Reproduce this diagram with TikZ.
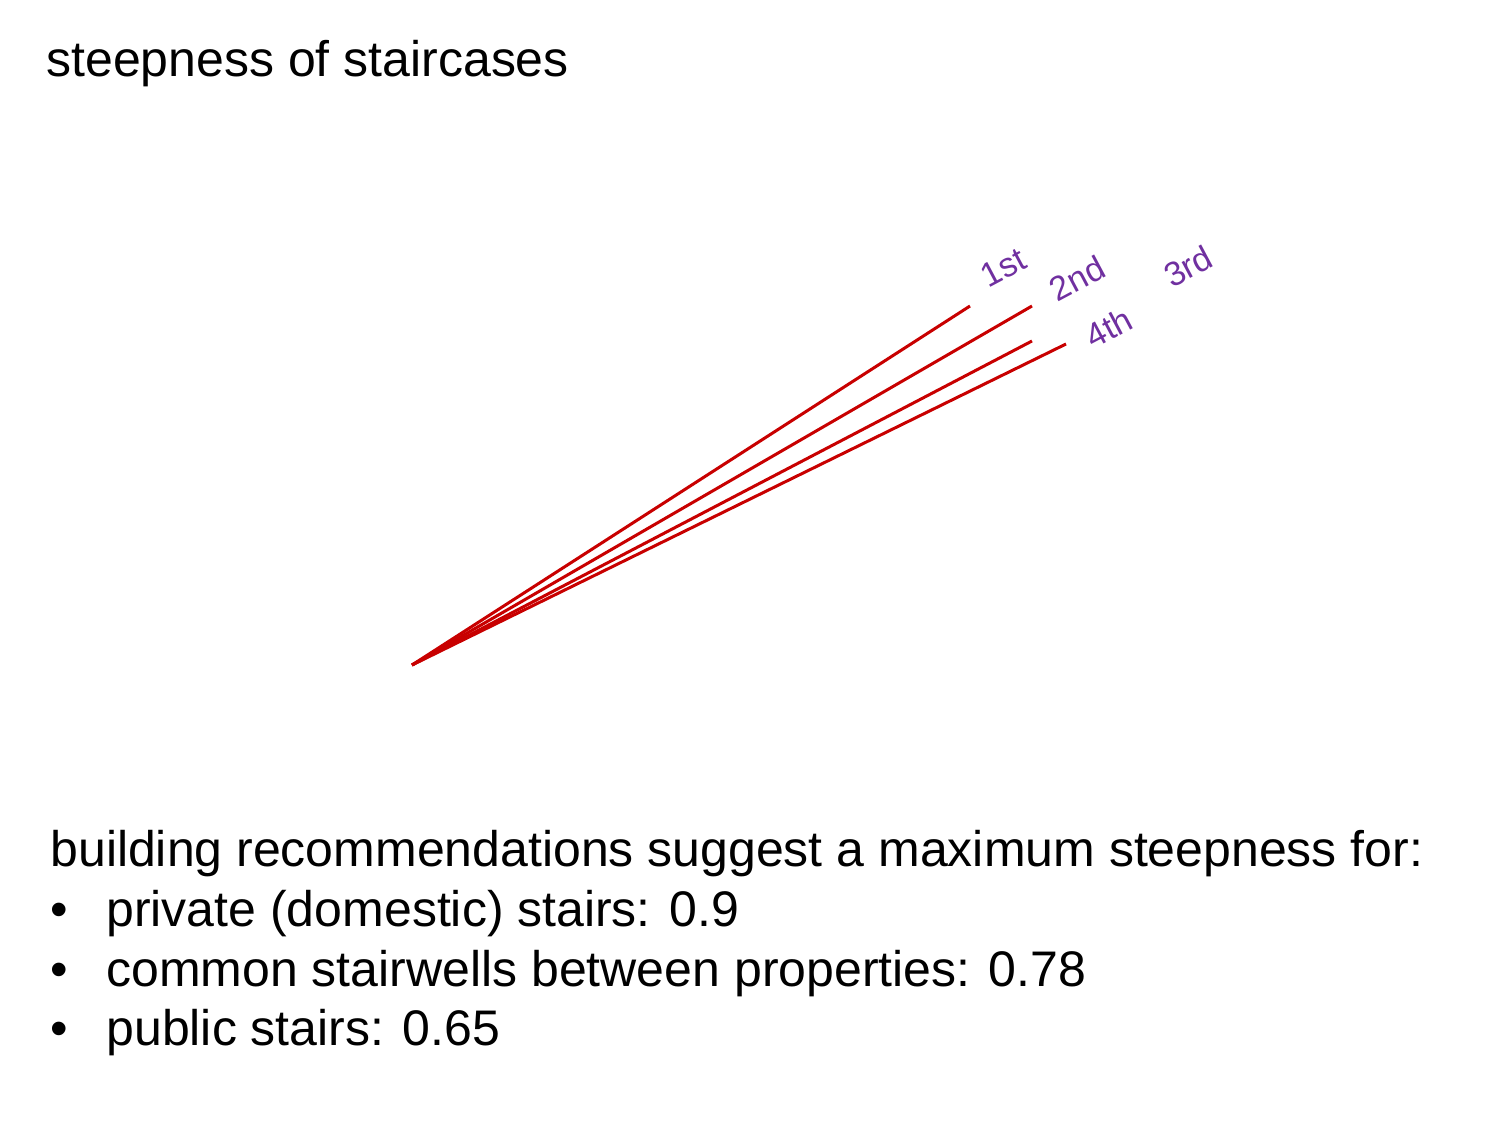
\documentclass[tikz,border=0pt]{standalone}
\usepackage{fontspec}
\setmainfont{Liberation Sans}
\definecolor{stair}{RGB}{200,0,0}
\definecolor{lab}{RGB}{112,48,160}
\tikzset{stairline/.style={stair,line width=1.5pt},
 lbl/.style={lab,font=\fontsize{17}{20}\selectfont,rotate=28,anchor=center,inner sep=0},
 txt/.style={anchor=base west,inner sep=0,font=\fontsize{25}{30}\selectfont}}
\begin{document}
\begin{tikzpicture}[x=0.5pt,y=-0.5pt]
\useasboundingbox (0,0) rectangle (1500,1125);
\node[txt] (title) at (46,76) {steepness of staircases};
\coordinate (o) at (412,665);
\coordinate (e1) at (970,306);
\coordinate (e2) at (1032,306);
\coordinate (e3) at (1032,341);
\coordinate (e4) at (1066,344);
\draw[stairline] (o) -- (e1);
\draw[stairline] (o) -- (e2);
\draw[stairline] (o) -- (e3);
\draw[stairline] (o) -- (e4);
\node[lbl] (l1) at (1003,268) {1st};
\node[lbl] (l2) at (1077,278) {2nd};
\node[lbl] (l3) at (1188,266) {3rd};
\node[lbl] (l4) at (1109,328) {4th};
\node[txt] (b0) at (50,866) {building recommendations suggest a maximum steepness for:};
\node[txt] (d1) at (50,926) {•};
\node[txt] (t1) at (106,926) {private (domestic) stairs: 0.9};
\node[txt] (d2) at (50,986) {•};
\node[txt] (t2) at (106,986) {common stairwells between properties: 0.78};
\node[txt] (d3) at (50,1045) {•};
\node[txt] (t3) at (106,1045) {public stairs: 0.65};
\end{tikzpicture}
\end{document}
